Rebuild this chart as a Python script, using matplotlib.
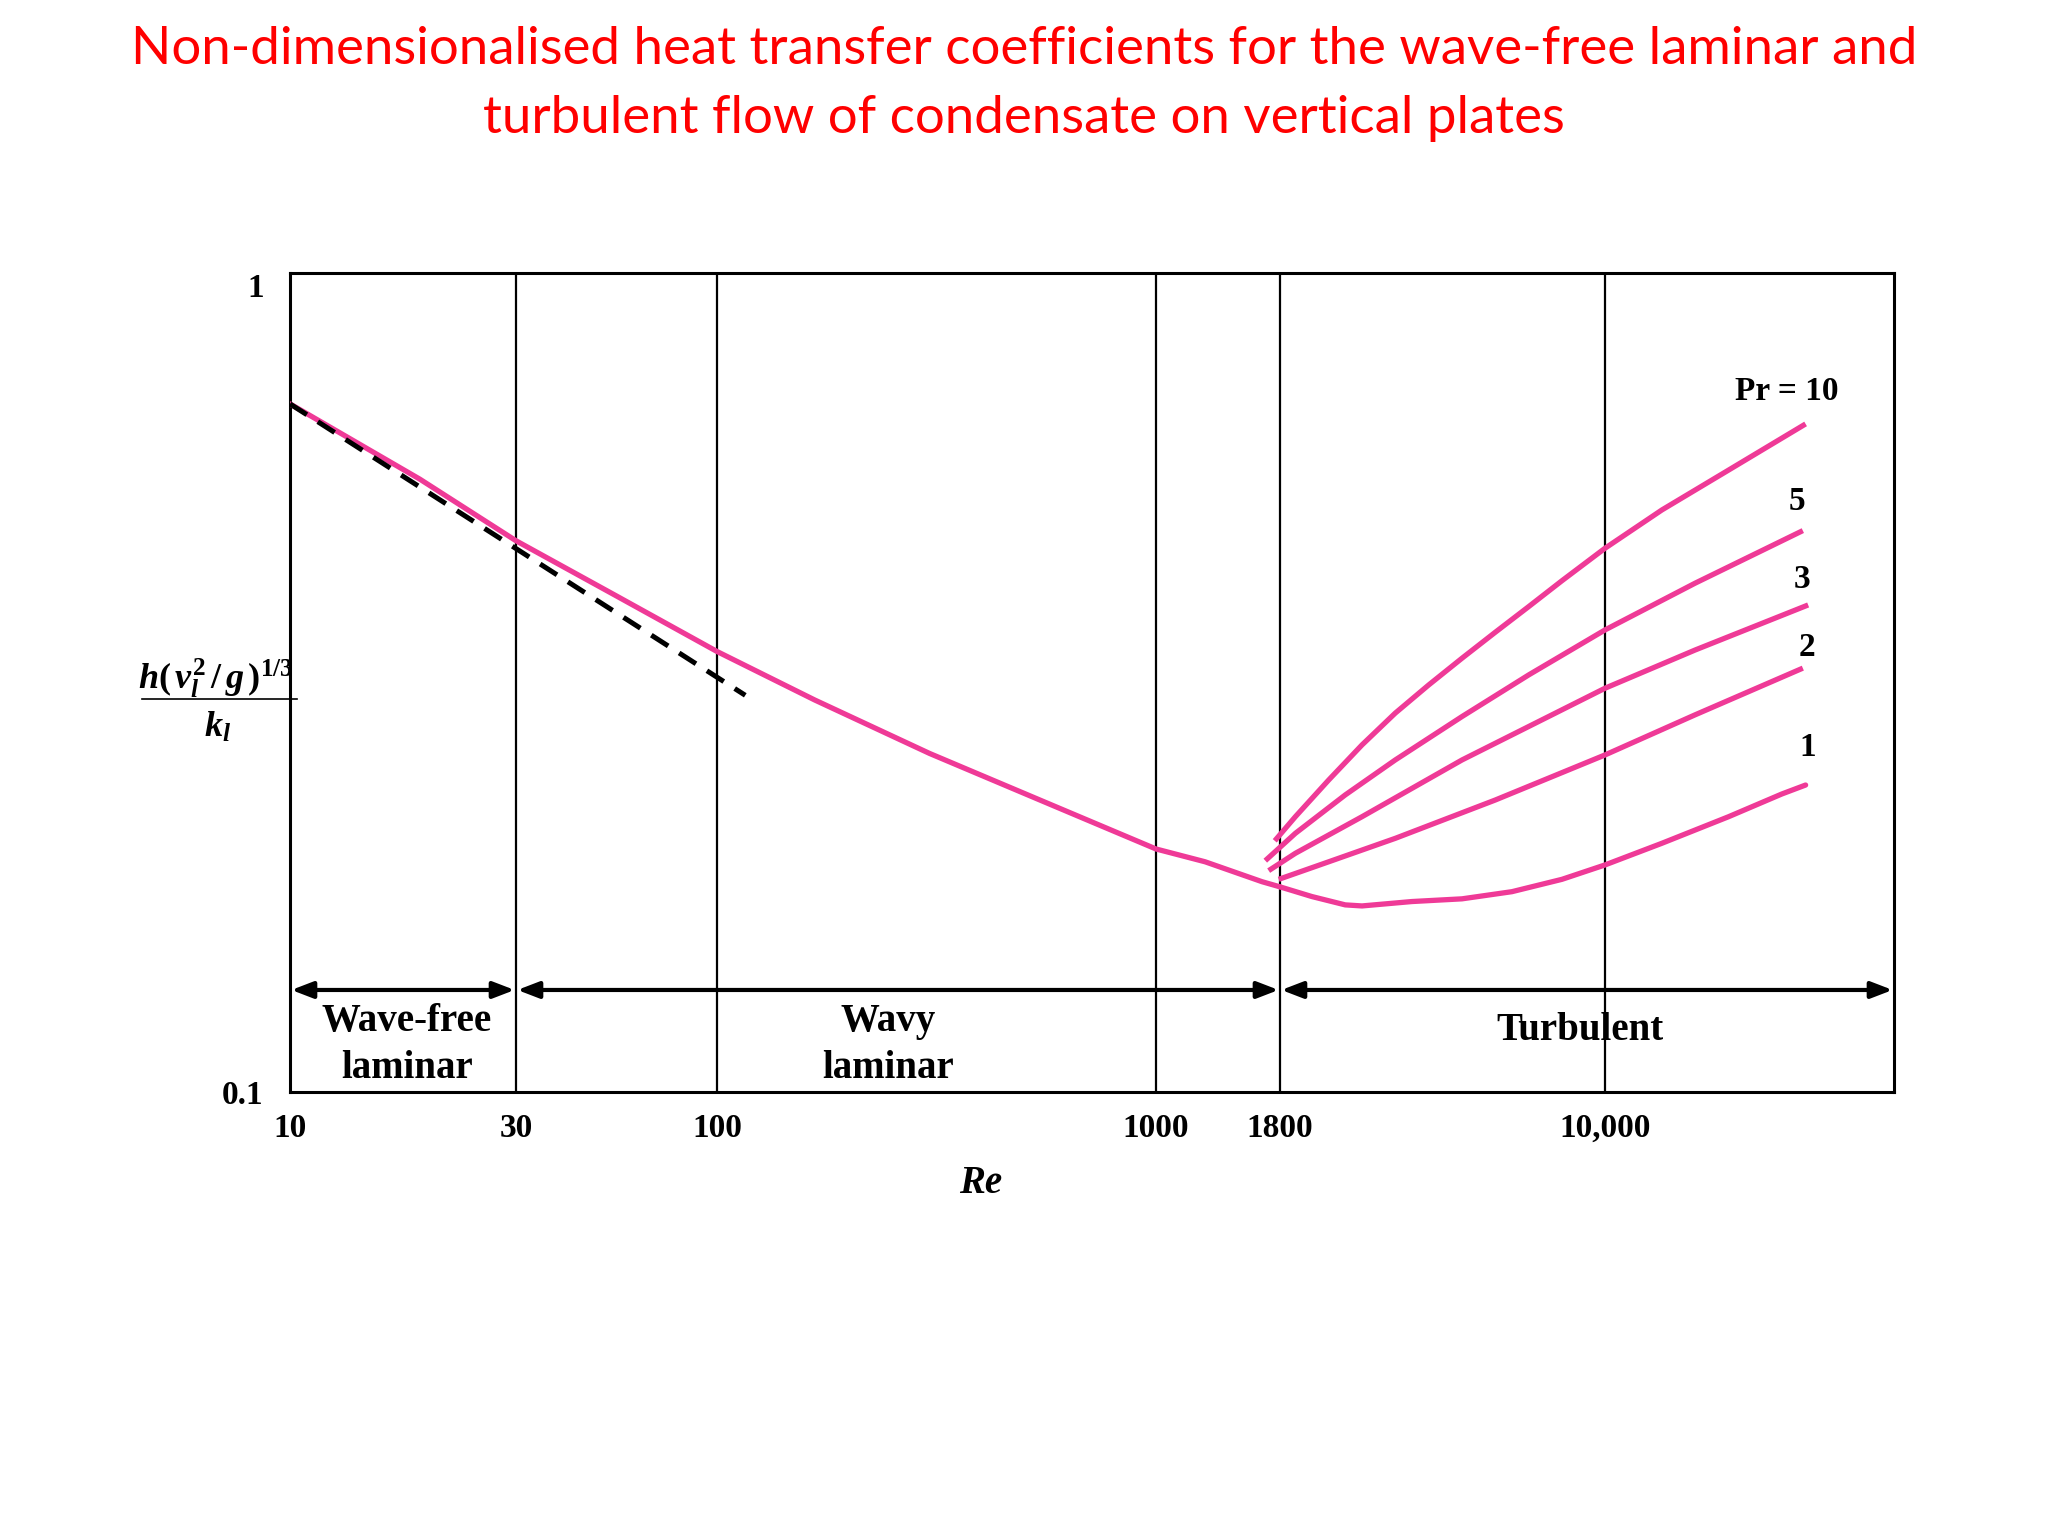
import numpy as np
import matplotlib
matplotlib.use("Agg")
import matplotlib.pyplot as plt
from matplotlib.lines import Line2D
from matplotlib.ticker import FixedLocator, FixedFormatter, NullLocator

# ---------------- data ----------------
re_ticks = [10, 30, 100, 1000, 1800, 10000]
re_tick_labels = ["10", "30", "100", "1000", "1800", "10,000"]
h_ticks = [0.1, 1]
h_tick_labels = ["0.1", "1"]

region_starts = [10, 30, 1800]
region_labels = ["Wave-free\nlaminar", "Wavy\nlaminar", "Turbulent"]

# Nusselt (dashed) line
re_nusselt = [10, 116]
h_nusselt = [0.692, 0.305]

# wave-free + wavy laminar curve
re_laminar = [10, 18.8, 30, 54.9, 100, 167, 305, 557, 1000, 1262, 1653, 1800]
h_laminar = [0.692, 0.560, 0.471, 0.403, 0.345, 0.301, 0.259, 0.226, 0.198, 0.191, 0.1806, 0.178]

# turbulent branches
re_pr1 = [1800, 2131, 2540, 2775, 3612, 4703, 6121, 7969, 10000, 13506, 19200, 25430, 28830]
h_pr1 = [0.178, 0.1732, 0.1692, 0.1687, 0.1708, 0.1721, 0.1756, 0.1818, 0.1893, 0.2012, 0.2168, 0.2311, 0.2370]
re_pr2 = [1789, 2328, 3307, 5604, 10000, 16090, 28410]
h_pr2 = [0.1818, 0.1910, 0.2040, 0.2272, 0.2579, 0.2887, 0.3292]
re_pr3 = [1706, 1952, 2775, 4703, 10000, 16090, 29220]
h_pr3 = [0.1863, 0.1956, 0.2168, 0.2543, 0.3111, 0.3464, 0.3932]
re_pr5 = [1679, 1952, 2540, 3307, 4703, 6688, 10000, 16090, 28410]
h_pr5 = [0.1916, 0.2069, 0.2305, 0.2543, 0.2873, 0.3230, 0.3665, 0.4180, 0.4846]
re_pr10 = [1756, 1952, 2328, 2775, 3307, 3945, 4703, 5604, 6688, 7969, 10000, 13506, 19200, 28830]
h_pr10 = [0.2026, 0.2168, 0.2404, 0.2653, 0.2901, 0.3140, 0.3385, 0.3641, 0.3914, 0.4209, 0.4611,
          0.5136, 0.5745, 0.6541]

pr_labels = ["Pr = 10", "5", "3", "2", "1"]

# ---------------- style ----------------
plt.rcParams["font.family"] = ["Liberation Serif", "DejaVu Serif"]
plt.rcParams["mathtext.fontset"] = "custom"
plt.rcParams["mathtext.rm"] = "Liberation Serif:bold"
plt.rcParams["mathtext.it"] = "Liberation Serif:italic:bold"
plt.rcParams["mathtext.bf"] = "Liberation Serif:bold"

PINK = "#EF3A97"

# x-scale of the reference: log-like, anchored at tick positions
_log_anchor = np.log10(re_ticks)
_frac_anchor = np.array([0.0, 0.1409, 0.2662, 0.5399, 0.6172, 0.8198])


def _pw(x, xp, fp):
    x = np.asarray(x, dtype=float)
    y = np.interp(x, xp, fp)
    y = np.where(x < xp[0], fp[0] + (x - xp[0]) * (fp[1] - fp[0]) / (xp[1] - xp[0]), y)
    y = np.where(x > xp[-1], fp[-1] + (x - xp[-1]) * (fp[-1] - fp[-2]) / (xp[-1] - xp[-2]), y)
    return y


def fwd(re):
    return _pw(np.log10(np.clip(np.asarray(re, dtype=float), 1e-6, None)), _log_anchor, _frac_anchor)


def inv(f):
    return 10 ** _pw(f, _frac_anchor, _log_anchor)


fig = plt.figure(figsize=(20.48, 15.36), dpi=100)
ax = fig.add_axes([0.1416, 0.2891, 0.7832, 0.5332])
ax.set_xscale("function", functions=(fwd, inv))
ax.set_yscale("log")
xmax = float(inv(1.0))
ax.set_xlim(10, xmax)
ax.set_ylim(0.1, 1)

for s in ax.spines.values():
    s.set_linewidth(2.2)
    s.set_color("black")

ax.xaxis.set_major_locator(FixedLocator(re_ticks))
ax.xaxis.set_major_formatter(FixedFormatter(re_tick_labels))
ax.xaxis.set_minor_locator(NullLocator())
ax.yaxis.set_major_locator(FixedLocator(h_ticks))
ax.yaxis.set_major_formatter(FixedFormatter(h_tick_labels))
ax.yaxis.set_minor_locator(NullLocator())
ax.tick_params(axis="x", length=0, pad=15, labelsize=24)
ax.tick_params(axis="y", length=0, pad=19, labelsize=24)
for lab in ax.get_xticklabels() + ax.get_yticklabels():
    lab.set_fontweight("bold")
ax.get_yticklabels()[1].set_va("top")

# vertical region lines
for r in re_ticks[1:]:
    ax.axvline(r, color="black", lw=1.6, zorder=1)

# curves
ax.plot(re_nusselt, h_nusselt, color="black", lw=3.6, dashes=(4, 2.6), zorder=4)
kw = dict(color=PINK, lw=3.8, zorder=3)
ax.plot(re_laminar, h_laminar, solid_capstyle="round", solid_joinstyle="round", **kw)
ax.plot(re_pr1, h_pr1, solid_capstyle="round", solid_joinstyle="round", **kw)
for re_s, h_s in [(re_pr2, h_pr2), (re_pr3, h_pr3), (re_pr5, h_pr5), (re_pr10, h_pr10)]:
    ax.plot(re_s, h_s, solid_capstyle="butt", solid_joinstyle="round", **kw)

# Pr labels
pr_label_pos = [(0.9333, 0.8547), (0.9395, 0.7204), (0.9426, 0.6252), (0.9458, 0.5421), (0.9464, 0.420)]
for lab, (px, py) in zip(pr_labels, pr_label_pos):
    ax.text(px, py, lab, transform=ax.transAxes, ha="center", va="center",
            fontsize=24, fontweight="bold")

# region arrows
arrow_y = 0.1245
region_ends = region_starts[1:] + [xmax]
for a, b in zip(region_starts, region_ends):
    ax.annotate("", xy=(b, arrow_y), xytext=(a, arrow_y),
                xycoords=("data", "axes fraction"), textcoords=("data", "axes fraction"),
                arrowprops=dict(arrowstyle="<|-|>,head_length=0.65,head_width=0.25",
                                mutation_scale=20, lw=3, color="black",
                                shrinkA=1, shrinkB=1), zorder=5)

region_label_pos = [(0.0729, 0.0573), (0.3728, 0.0573), (0.8042, 0.0745)]
for lab, (px, py) in zip(region_labels, region_label_pos):
    ax.text(px, py, lab, transform=ax.transAxes, ha="center", va="center",
            fontsize=28, fontweight="bold", linespacing=1.36)

# axis labels
fig.text(0.479, 0.2298, "Re", ha="center", va="center", fontsize=28,
         fontweight="bold", fontstyle="italic")
fig.text(0.1055, 0.5586, r"$h(\,v_l^2\,/\,g\,)^{1/3}$", ha="center", va="center", fontsize=26)
fig.text(0.106, 0.526, r"$k_l$", ha="center", va="center", fontsize=26)
fig.add_artist(Line2D([0.0693, 0.145], [0.5449, 0.5449], transform=fig.transFigure,
                      color="black", lw=1.2))

# title
fig.text(0.5, 1 - 49 / 1536, "Non-dimensionalised heat transfer coefficients for the wave-free laminar and",
         ha="center", va="center", fontsize=38, color="#FF0000", family=["Lato", "DejaVu Sans"])
fig.text(0.5, 1 - 118 / 1536, "turbulent flow of condensate on vertical plates",
         ha="center", va="center", fontsize=38, color="#FF0000", family=["Lato", "DejaVu Sans"])

fig.savefig("out.png", dpi=100, facecolor="white")
